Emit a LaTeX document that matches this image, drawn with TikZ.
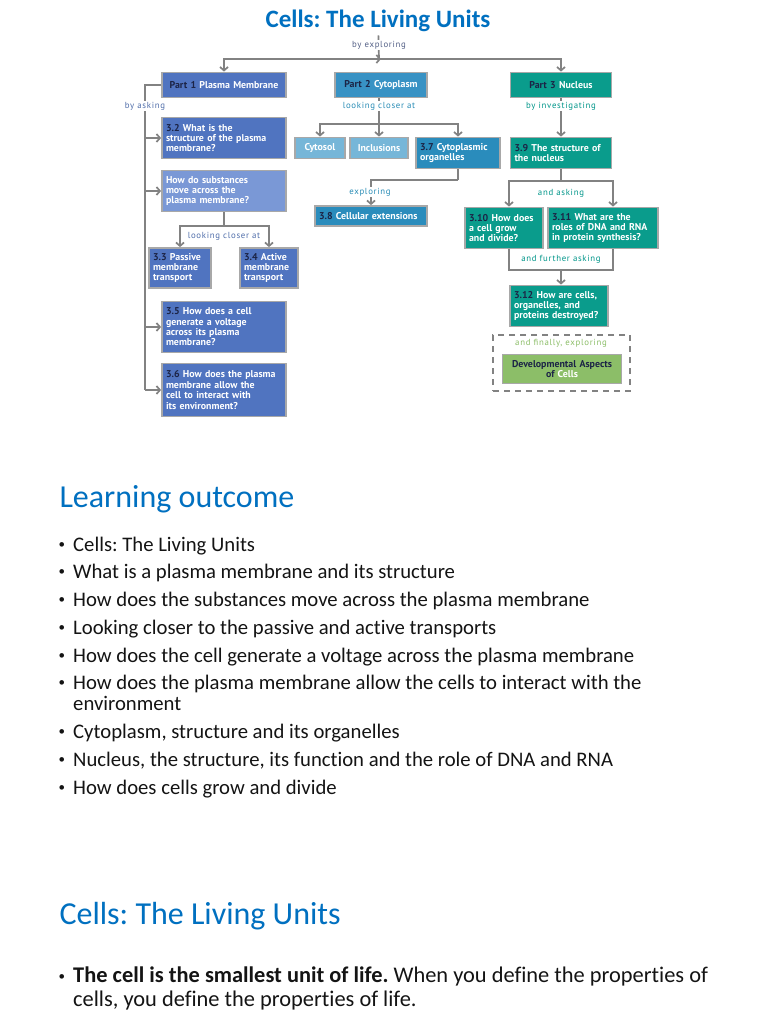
\documentclass[tikz,border=0pt]{standalone}
\usepackage{fontspec}
\setmainfont{Carlito}[Ligatures=NoCommon]
\newfontfamily\boxfont{PT Sans}
\newfontfamily\lblfont[LetterSpace=8]{PT Sans}
\usetikzlibrary{arrows.meta}
\frenchspacing

\newcommand{\partno}[1]{\textcolor{numdark}{#1}}
\newcommand{\bul}{\llap{\raisebox{2.5pt}{\fontsize{13}{13}\selectfont •}\hspace{8pt}}}

\begin{document}
\begin{tikzpicture}[
    x=1pt, y=-1pt,
    conn/.style={draw=linegray, line width=1.7pt},
    arr/.style={conn, -{Straight Barb[length=3.5pt,width=8pt]}},
    cbox/.style={draw=framegray, line width=1.8pt, inner xsep=4pt, inner ysep=2pt,
                 align=left, text=white, font=\boxfont\bfseries\fontsize{9.9}{10.4}\selectfont},
    partbox/.style={cbox, align=center},
    lbl/.style={font=\lblfont\fontsize{8.8}{10}\selectfont, fill=white, inner sep=1pt},
    heading/.style={font=\fontsize{32}{38}\selectfont, text=headblue, anchor=base west},
    bullettext/.style={font=\fontsize{20.7}{21}\selectfont, text=bodytext, anchor=base west,
                       align=left, inner sep=0pt},
]

% Colors
\definecolor{headblue}{RGB}{0,112,192}
\definecolor{bodytext}{RGB}{20,20,20}
\definecolor{linegray}{RGB}{130,130,130}
\definecolor{framegray}{RGB}{168,168,168}
\definecolor{numdark}{RGB}{28,36,70}

\definecolor{memblue}{RGB}{80,116,192}
\definecolor{memlight}{RGB}{122,152,214}
\definecolor{cytblue}{RGB}{56,146,196}
\definecolor{cytlight}{RGB}{118,182,216}
\definecolor{orgblue}{RGB}{42,140,188}
\definecolor{nucteal}{RGB}{10,156,140}
\definecolor{devgreen}{RGB}{140,190,104}

\definecolor{lblnavy}{RGB}{84,96,134}
\definecolor{lblblue}{RGB}{80,110,170}
\definecolor{lblcyan}{RGB}{40,140,182}
\definecolor{lblteal}{RGB}{0,150,138}

\useasboundingbox (0,0) rectangle (768,1024);
\fill[white] (0,0) rectangle (768,1024);

% Title
\node[font=\bfseries\fontsize{25}{30}\selectfont, text=headblue] (title) at (378,21) {Cells: The Living Units};

% Part boxes
\node[partbox, fill=memblue, text width=116pt, minimum height=25pt] (p1) at (224,85) {\partno{Part 1} Plasma Membrane};
\node[partbox, fill=cytblue, text width=84pt, minimum height=25pt] (p2) at (381,85) {\partno{Part 2} Cytoplasm};
\node[partbox, fill=nucteal, text width=93pt, minimum height=25pt] (p3) at (561,85) {\partno{Part 3} Nucleus};

% Plasma membrane branch
\node[cbox, fill=memblue, text width=116pt, minimum height=41pt] (q32) at (224,138)
    {\partno{3.2} What is the\\structure of the plasma\\membrane?};
\node[cbox, fill=memlight, text width=116pt, minimum height=41pt] (qsub) at (224,191)
    {How do substances\\move across the\\plasma membrane?};
\node[cbox, fill=memblue, text width=54pt, minimum height=40pt] (q33) at (180,268)
    {\partno{3.3} Passive\\membrane\\transport};
\node[cbox, fill=memblue, text width=50pt, minimum height=40pt] (q34) at (269,268)
    {\partno{3.4} Active\\membrane\\transport};
\node[cbox, fill=memblue, text width=116pt, minimum height=51pt] (q35) at (224,327)
    {\partno{3.5} How does a cell\\generate a voltage\\across its plasma\\membrane?};
\node[cbox, fill=memblue, text width=116pt, minimum height=53pt] (q36) at (224,390)
    {\partno{3.6} How does the plasma\\membrane allow the\\cell to interact with\\its environment?};

% Cytoplasm branch
\node[partbox, fill=cytlight, text width=42pt, minimum height=21pt] (cyto) at (320,148) {Cytosol};
\node[partbox, fill=cytlight, text width=50pt, minimum height=21pt] (incl) at (379,148) {Inclusions};
\node[cbox, fill=orgblue, text width=76pt, minimum height=31pt] (q37) at (458,153)
    {\partno{3.7} Cytoplasmic\\organelles};
\node[cbox, fill=orgblue, text width=104pt, minimum height=20pt] (q38) at (371,216)
    {\partno{3.8} Cellular extensions};

% Nucleus branch
\node[cbox, fill=nucteal, text width=93pt, minimum height=31pt] (q39) at (561,153)
    {\partno{3.9} The structure of\\the nucleus};
\node[cbox, fill=nucteal, text width=70pt, minimum height=41pt] (q310) at (504,228)
    {\partno{3.10} How does\\a cell grow\\and divide?};
\node[cbox, fill=nucteal, text width=102pt, minimum height=41pt] (q311) at (603,228)
    {\partno{3.11} What are the\\roles of DNA and RNA\\in protein synthesis?};
\node[cbox, fill=nucteal, text width=90pt, minimum height=41pt] (q312) at (559,306)
    {\partno{3.12} How are cells,\\organelles, and\\proteins destroyed?};

% Developmental aspects
\node[draw=linegray, line width=1.2pt, dash pattern=on 6pt off 5pt, minimum width=137pt, minimum height=56pt] (frame) at (561.5,363) {};
\node[partbox, fill=devgreen, text=numdark, text width=111pt, minimum height=29pt] (dev) at (562,369)
    {Developmental Aspects\\of \textcolor{white}{Cells}};

% Connectors
\coordinate (jtop) at (379,59);
\draw[conn] (title) -- (jtop);
\draw[arr] (jtop) -| (p1);
\draw[arr] (jtop) -- (jtop -| p2);
\draw[arr] (jtop) -- (jtop -| p3) -- (p3);

\coordinate (spine) at (145,85);
\draw[conn] (p1.west) -- (spine) -- (spine |- q36.west);
\foreach \n in {q32,qsub,q35,q36}
    \draw[arr] (spine |- \n.west) -- (\n.west);

\coordinate (jsub) at (224,226);
\draw[conn] (qsub.south) -- (jsub);
\draw[arr] (jsub) -| (q33);
\draw[arr] (jsub) -| (q34);

\coordinate (j2) at (379,124);
\draw[conn] (p2.south -| j2) -- (j2);
\draw[arr] (j2) -| (cyto);
\draw[arr] (j2) -- (j2 |- incl.north);
\draw[arr] (j2) -| (q37);

\coordinate (j37) at (458,180);
\draw[conn] (q37.south) -- (j37);
\draw[arr] (j37) -| (q38);

\draw[arr] (p3) -- (q39);
\coordinate (j3) at (561,181);
\draw[conn] (q39.south) -- (j3);
\draw[arr] (j3) -| ([xshift=5pt]q310.north);
\draw[arr] (j3) -| ([xshift=10pt]q311.north);

\coordinate (j4) at (561,270);
\draw[conn] ([xshift=5pt]q310.south) |- (j4) -| ([xshift=10pt]q311.south);
\draw[arr] (j4) -- (j4 |- q312.north);

% Connector labels
\node[lbl, text=lblnavy] (l1) at (379,45) {by exploring};
\node[lbl, text=lblblue] (l2) at (145,106) {by asking};
\node[lbl, text=lblblue] (l3) at (224,236) {looking closer at};
\node[lbl, text=lblcyan] (l4) at (379,106) {looking closer at};
\node[lbl, text=lblcyan] (l5) at (370,192) {exploring};
\node[lbl, text=lblteal] (l6) at (561,106) {by investigating};
\node[lbl, text=lblteal] (l7) at (561,193) {and asking};
\node[lbl, text=lblteal] (l8) at (561,259) {and further asking};
\node[lbl, text=devgreen] (l9) at (561,343) {and finally, exploring};

% Learning outcome
\node[heading] (lo) at (56,507) {Learning outcome};
\foreach \y/\txt [count=\i] in {
    551/{Cells: The Living Units},
    578/{What is a plasma membrane and its structure},
    606/{How does the substances move across the plasma membrane},
    634/{Looking closer to the passive and active transports},
    662/{How does the cell generate a voltage across the plasma membrane},
    710/{How does the plasma membrane allow the cells to interact with the\\environment},
    738/{Cytoplasm, structure and its organelles},
    766/{Nucleus, the structure, its function and the role of DNA and RNA},
    794/{How does cells grow and divide}}
    \node[bullettext] (b\i) at (73,\y) {\bul\txt};

% Cells section
\node[heading] (cl) at (56,924) {Cells: The Living Units};
\node[bullettext, font=\fontsize{22.4}{23.5}\selectfont] (c1) at (73,1006) {\bul\textbf{The cell is the smallest unit of life.} When you define the properties of\\cells, you define the properties of life.};

\end{tikzpicture}
\end{document}
